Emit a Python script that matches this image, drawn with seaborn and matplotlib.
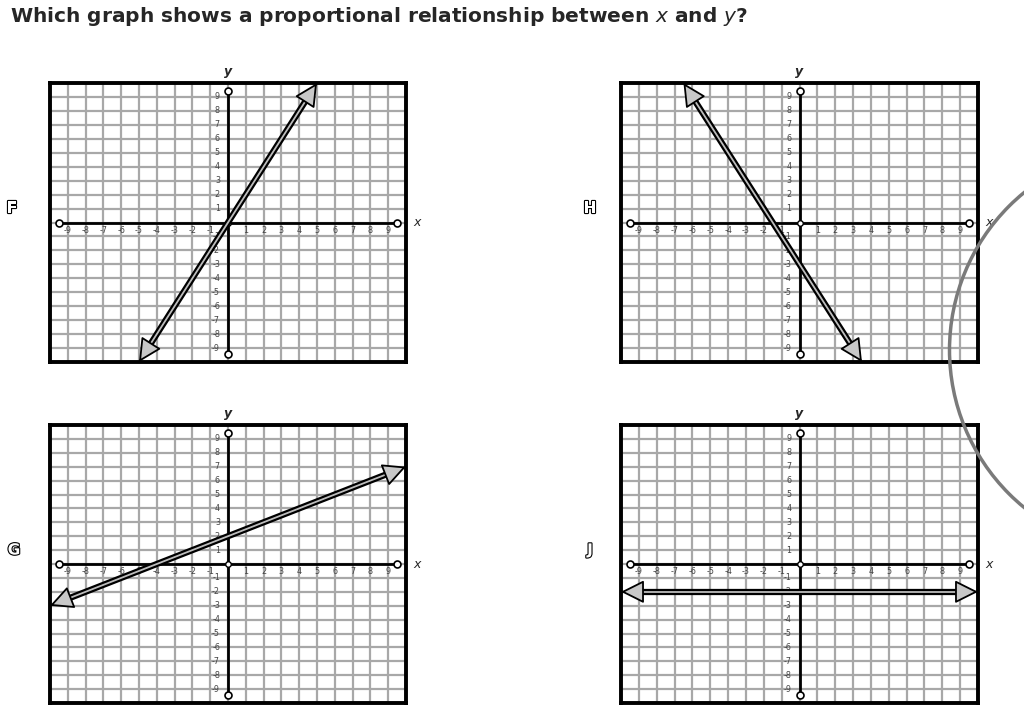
import numpy as np
import pandas as pd
import seaborn as sns
from matplotlib import pyplot as plt
from matplotlib import patches
import matplotlib.patheffects as pe

# line endpoints for each graph (arrow tips)
f_x = [-5, 5]
f_y = [-10, 10]
h_x = [-6.5, 3.5]
h_y = [10, -10]
g_x = [-10, 10]
g_y = [-3, 7]
j_x = [-10, 10]
j_y = [-2, -2]

panel_letters = ['F', 'H', 'G', 'J']
tick_vals = [-9, -8, -7, -6, -5, -4, -3, -2, -1, 1, 2, 3, 4, 5, 6, 7, 8, 9]
title = 'Which graph shows a proportional relationship between $x$ and $y$?'

sns.set_style('white')
plt.rcParams['font.family'] = ['DejaVu Sans']

fig = plt.figure(figsize=(10.24, 7.1), dpi=100)

# box positions in pixels: left, top, right, bottom
boxes = [(50, 83, 406, 362), (621, 83, 978, 362), (50, 425, 406, 703), (621, 425, 978, 703)]
letter_pos = [(12, 208), (590, 208), (14, 550), (590, 550)]
lines = [(f_x, f_y), (h_x, h_y), (g_x, g_y), (j_x, j_y)]

W, H = 1024, 710


def add_arrow(ax, tip, back):
    ax.annotate('', xy=tip, xytext=back,
                arrowprops=dict(arrowstyle='-|>,head_length=0.9,head_width=0.45',
                                mutation_scale=16, fc='#c8c8c8', ec='black', lw=1.3,
                                shrinkA=0, shrinkB=0),
                annotation_clip=False, zorder=6)


for (l, t, r, b), letter, (lx, ly), (xs, ys) in zip(boxes, panel_letters, letter_pos, lines):
    ax = fig.add_axes([l / W, 1 - b / H, (r - l) / W, (b - t) / H])
    ax.set_xlim(-10, 10)
    ax.set_ylim(-10, 10)
    ax.set_xticks(range(-10, 11))
    ax.set_yticks(range(-10, 11))
    ax.grid(True, color='#a8a8a8', lw=1.6)
    ax.tick_params(length=0, labelbottom=False, labelleft=False)
    for sp in ax.spines.values():
        sp.set_visible(True)
        sp.set_color('black')
        sp.set_linewidth(2.8)

    # axes with open circle ends
    ax.plot([-9.5, 9.5], [0, 0], color='black', lw=2, zorder=3)
    ax.plot([0, 0], [-9.4, 9.4], color='black', lw=2, zorder=3)
    ax.plot([-9.5, 9.5], [0, 0], 'o', ms=5, mfc='white', mec='black', mew=1.2, zorder=4)
    ax.plot([0, 0], [-9.4, 9.4], 'o', ms=5, mfc='white', mec='black', mew=1.2, zorder=4)
    ax.plot([0], [0], 'o', ms=4, mfc='white', mec='black', mew=1, zorder=4)

    for v in tick_vals:
        ax.text(v, -0.55, str(v), fontsize=5.8, color='#444444', ha='center', va='center', zorder=3)
        ax.text(-0.45, v, str(v), fontsize=5.8, color='#444444', ha='right', va='center', zorder=3)

    ax.text(0, 10.35, 'y', fontsize=9, fontweight='bold', style='italic', ha='center', va='bottom')
    ax.text(10.4, 0, 'x', fontsize=9, style='italic', ha='left', va='center')

    p0 = np.array([xs[0], ys[0]], dtype=float)
    p1 = np.array([xs[1], ys[1]], dtype=float)
    d = (p1 - p0) / np.linalg.norm(p1 - p0)

    # shaft stops under the arrowheads
    s0 = p0 + 0.6 * d
    s1 = p1 - 0.6 * d
    df = pd.DataFrame({'x': [s0[0], s1[0]], 'y': [s0[1], s1[1]]})
    sns.lineplot(data=df, x='x', y='y', ax=ax, color='#bdbdbd', lw=1.3, sort=False,
                 zorder=5, clip_on=False,
                 path_effects=[pe.Stroke(linewidth=4.5, foreground='black'), pe.Normal()])
    ax.set_xlabel('')
    ax.set_ylabel('')

    add_arrow(ax, tuple(p0), tuple(p0 + d))
    add_arrow(ax, tuple(p1), tuple(p1 - d))

    fig.text(lx / W, 1 - ly / H, letter, fontsize=11, fontweight='bold', color='white',
             ha='center', va='center',
             path_effects=[pe.withStroke(linewidth=1.6, foreground='black')])

fig.text(10 / W, 1 - 16 / H, title, fontsize=14.5, fontweight='bold', ha='left', va='center')

# grey circle arc on the right edge
arc = patches.Ellipse((1153 / W, 1 - 350 / H), 2 * 203.5 / W, 2 * 203.5 / H,
                      transform=fig.transFigure, fill=False, ec='#7a7a7a', lw=2.5, zorder=20)
fig.add_artist(arc)

fig.savefig('out.png', dpi=100)
